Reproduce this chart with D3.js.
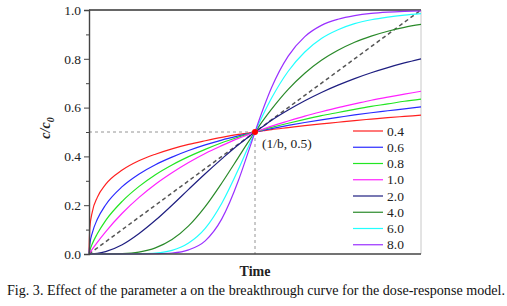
<html>
<head>
<style>
  body { margin: 0; background: #fff; }
  svg, svg text { font-family: "Liberation Serif", "Times New Roman", serif; }
</style>
<script src="https://cdn.jsdelivr.net/npm/d3@7"></script>
</head>
<body>
<svg id="chart" width="507" height="306"></svg>
<script>
// time in units of 1/b
var times = [0, 0.005, 0.02, 0.05, 0.1, 0.2, 0.3, 0.4, 0.5, 0.6, 0.7, 0.8, 0.9, 0.95, 1.0, 1.05, 1.1, 1.2, 1.3, 1.4, 1.5, 1.6, 1.7, 1.8, 1.9, 2.0];

var labels = ["0.4", "0.6", "0.8", "1.0", "2.0", "4.0", "6.0", "8.0"];
var colors = ["#ff2020", "#2a2aff", "#22e622", "#ff22ff", "#1e1e80", "#2a8a2a", "#22ffff", "#9a30ff"];

var a04 = [0, 0.107, 0.173, 0.232, 0.285, 0.344, 0.382, 0.409, 0.431, 0.449, 0.464, 0.478, 0.490, 0.495, 0.5, 0.505, 0.510, 0.518, 0.526, 0.533, 0.540, 0.547, 0.553, 0.559, 0.564, 0.569];
var a06 = [0, 0.040, 0.087, 0.142, 0.201, 0.276, 0.327, 0.366, 0.397, 0.424, 0.447, 0.467, 0.484, 0.492, 0.5, 0.507, 0.514, 0.527, 0.539, 0.550, 0.560, 0.570, 0.579, 0.587, 0.595, 0.603];
var a08 = [0, 0.014, 0.042, 0.083, 0.137, 0.216, 0.276, 0.325, 0.365, 0.399, 0.429, 0.456, 0.479, 0.490, 0.5, 0.510, 0.519, 0.536, 0.552, 0.567, 0.580, 0.593, 0.605, 0.615, 0.626, 0.635];
var a10 = [0, 0.005, 0.020, 0.048, 0.091, 0.167, 0.231, 0.286, 0.333, 0.375, 0.412, 0.444, 0.474, 0.487, 0.5, 0.512, 0.524, 0.545, 0.565, 0.583, 0.600, 0.615, 0.630, 0.643, 0.655, 0.667];
var a20 = [0, 0, 0.0004, 0.0025, 0.0099, 0.038, 0.083, 0.138, 0.200, 0.265, 0.329, 0.390, 0.448, 0.474, 0.5, 0.524, 0.548, 0.590, 0.628, 0.662, 0.692, 0.719, 0.743, 0.764, 0.783, 0.800];
var a40 = [0, 0, 0, 0, 0.0001, 0.0016, 0.008, 0.025, 0.059, 0.115, 0.194, 0.291, 0.396, 0.449, 0.5, 0.549, 0.594, 0.675, 0.741, 0.794, 0.835, 0.868, 0.893, 0.913, 0.929, 0.941];
var a60 = [0, 0, 0, 0, 0, 0, 0.001, 0.004, 0.015, 0.045, 0.105, 0.208, 0.347, 0.424, 0.5, 0.573, 0.639, 0.749, 0.828, 0.883, 0.919, 0.944, 0.960, 0.971, 0.979, 0.985];
var a80 = [0, 0, 0, 0, 0, 0, 0, 0.001, 0.004, 0.017, 0.054, 0.144, 0.301, 0.399, 0.5, 0.596, 0.682, 0.811, 0.891, 0.937, 0.962, 0.977, 0.986, 0.991, 0.994, 0.996];
var series = [a04, a06, a08, a10, a20, a40, a60, a80];

var yTicks = [0.0, 0.2, 0.4, 0.6, 0.8, 1.0];
var yMinor = [0.1, 0.3, 0.5, 0.7, 0.9];
var diagonal = [[0, 0], [2, 1]];
var midPoint = [1, 0.5];

var svg = d3.select("#chart");
var plotLeft = 89, plotRight = 421, plotTop = 10, plotBottom = 254;

var x = d3.scaleLinear().domain([0, 2]).range([plotLeft, plotRight]);
var y = d3.scaleLinear().domain([0, 1]).range([plotBottom, plotTop]);

// frame
svg.append("line").attr("x1", plotRight).attr("x2", plotRight).attr("y1", plotTop).attr("y2", plotBottom)
  .attr("stroke", "#c8c8c8").attr("stroke-width", 1);
svg.append("line").attr("x1", plotLeft).attr("x2", plotRight).attr("y1", plotTop).attr("y2", plotTop)
  .attr("stroke", "#333").attr("stroke-width", 1.4);

// reference dashed lines
svg.append("line").attr("x1", x(0)).attr("x2", x(midPoint[0])).attr("y1", y(midPoint[1])).attr("y2", y(midPoint[1]))
  .attr("stroke", "#888").attr("stroke-width", 0.9).attr("stroke-dasharray", "3,3");
svg.append("line").attr("x1", x(midPoint[0])).attr("x2", x(midPoint[0])).attr("y1", y(midPoint[1])).attr("y2", y(0))
  .attr("stroke", "#888").attr("stroke-width", 0.9).attr("stroke-dasharray", "3,3");

var line = d3.line().x(function(d) { return x(d[0]); }).y(function(d) { return y(d[1]); }).curve(d3.curveMonotoneX);

svg.append("path").attr("d", d3.line().x(function(d) { return x(d[0]); }).y(function(d) { return y(d[1]); })(diagonal))
  .attr("fill", "none").attr("stroke", "#555").attr("stroke-width", 1.5).attr("stroke-dasharray", "4,3");

series.forEach(function(s, i) {
  svg.append("path")
    .attr("d", line(times.map(function(t, j) { return [t, s[j]]; })))
    .attr("fill", "none").attr("stroke", colors[i]).attr("stroke-width", 1.2);
});

svg.append("circle").attr("cx", x(midPoint[0])).attr("cy", y(midPoint[1])).attr("r", 3).attr("fill", "#ff0000");
svg.append("text").attr("x", x(midPoint[0]) + 7).attr("y", y(midPoint[1]) + 16)
  .attr("font-size", 13.5).attr("fill", "#222").text("(1/b, 0.5)");

// axes
var yAxis = svg.append("g").attr("transform", "translate(" + plotLeft + ",0)")
  .call(d3.axisLeft(y).tickValues(yTicks).tickFormat(d3.format(".1f")).tickSize(5).tickPadding(3));
svg.append("g").attr("transform", "translate(" + plotLeft + ",0)")
  .call(d3.axisLeft(y).tickValues(yMinor).tickFormat("").tickSize(3))
  .select(".domain").remove();
yAxis.selectAll("text").attr("font-size", 13.5).style("font-family", "'Liberation Serif', serif").attr("fill", "#222");
svg.selectAll(".tick line").attr("stroke", "#444");
yAxis.select(".domain").attr("stroke", "#444").attr("stroke-width", 1.4);

svg.append("line").attr("x1", plotLeft).attr("x2", plotRight).attr("y1", plotBottom).attr("y2", plotBottom)
  .attr("stroke", "#444").attr("stroke-width", 1.4);

// axis titles
var yt = svg.append("text").attr("transform", "translate(50," + 128 + ") rotate(-90)")
  .attr("text-anchor", "middle").attr("font-size", 14).attr("font-weight", "bold").attr("font-style", "italic").attr("fill", "#222");
yt.append("tspan").text("c/c");
yt.append("tspan").attr("font-size", 10).attr("dy", 4).text("0");

svg.append("text").attr("x", x(1)).attr("y", 276).attr("text-anchor", "middle")
  .attr("font-size", 14).attr("font-weight", "bold").attr("fill", "#222").text("Time");

// legend
labels.forEach(function(l, i) {
  var ly = 131 + i * 16.25;
  svg.append("line").attr("x1", 353).attr("x2", 383).attr("y1", ly).attr("y2", ly)
    .attr("stroke", colors[i]).attr("stroke-width", 1.2);
  svg.append("text").attr("x", 387).attr("y", ly + 4.5).attr("font-size", 13.5).attr("fill", "#222").text(l);
});

svg.append("text").attr("x", 7).attr("y", 295).attr("font-size", 14.1).attr("fill", "#111")
  .text("Fig. 3. Effect of the parameter a on the breakthrough curve for the dose-response model.");
</script>
</body>
</html>
